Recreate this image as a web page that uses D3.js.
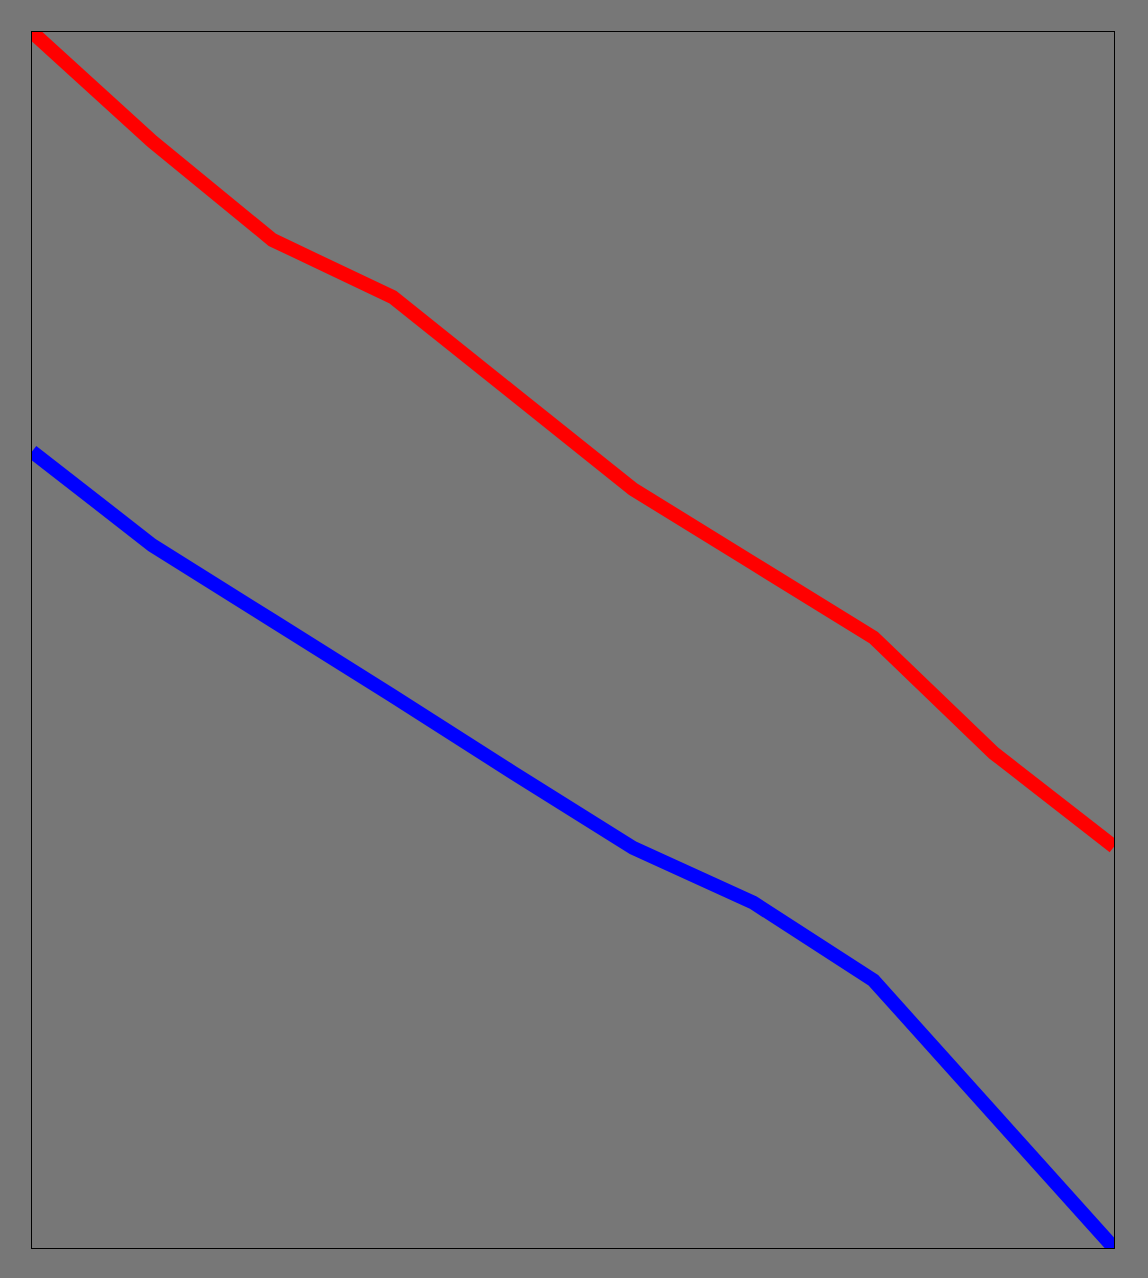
<!DOCTYPE html>
<html>
<head>
<meta charset="utf-8">
<script src="https://cdn.jsdelivr.net/npm/d3@7"></script>
<style>
  html, body { margin: 0; padding: 0; background: #777777; }
  svg { display: block; }
</style>
</head>
<body>
<div id="chart"></div>
<script>
const categories = [0, 1, 2, 3, 4, 5, 6, 7, 8, 9];
const redValues  = [100, 91.0, 82.9, 78.2, 70.3, 62.4, 56.3, 50.2, 40.7, 33.0];
const blueValues = [65.5, 57.8, 51.6, 45.4, 39.1, 32.9, 28.4, 22.0, 11.0, 0];
const seriesNames = ["red", "blue"];
const seriesColors = ["#ff0000", "#0000ff"];

const W = 1148, H = 1278;
const margin = { top: 32, right: 34, bottom: 30, left: 32 };
const iw = W - margin.left - margin.right;
const ih = H - margin.top - margin.bottom;

const svg = d3.select("#chart").append("svg")
  .attr("width", W).attr("height", H)
  .style("background", "#777777");

const x = d3.scaleLinear().domain(d3.extent(categories)).range([0, iw]);
const y = d3.scaleLinear().domain([0, 100]).range([ih, 0]);

svg.append("defs").append("clipPath").attr("id", "plotclip")
  .append("rect").attr("x", 0).attr("y", 0).attr("width", iw).attr("height", ih);

const g = svg.append("g").attr("transform", `translate(${margin.left},${margin.top})`);

const line = d3.line().x((d, i) => x(categories[i])).y(d => y(d));

const data = [redValues, blueValues];
g.append("g").attr("clip-path", "url(#plotclip)")
  .selectAll("path").data(data).join("path")
  .attr("d", d => line(d))
  .attr("fill", "none")
  .attr("stroke", (d, i) => seriesColors[i])
  .attr("stroke-width", 14)
  .attr("stroke-linejoin", "miter")
  .attr("stroke-linecap", "butt");

g.append("rect")
  .attr("x", -0.5).attr("y", -0.5)
  .attr("width", iw + 1).attr("height", ih + 1)
  .attr("fill", "none").attr("stroke", "#000").attr("stroke-width", 1);
</script>
</body>
</html>
